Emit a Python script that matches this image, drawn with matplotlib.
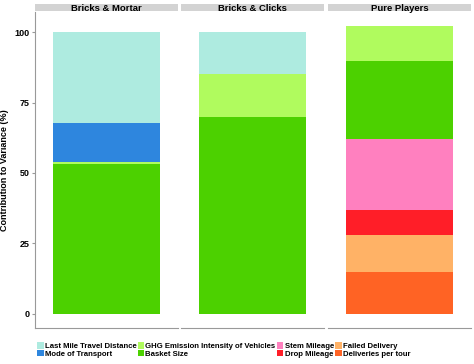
import matplotlib.pyplot as plt
from matplotlib.patches import Patch

plt.rcParams['font.family'] = ['Liberation Sans', 'DejaVu Sans']
plt.rcParams['font.weight'] = 'bold'

# Facets and variables (legend order; stacking goes bottom-up in reverse)
panels = ["Bricks & Mortar", "Bricks & Clicks", "Pure Players"]
variables = ["Last Mile Travel Distance", "Mode of Transport",
             "GHG Emission Intensity of Vehicles", "Basket Size",
             "Stem Mileage", "Drop Mileage", "Failed Delivery",
             "Deliveries per tour"]
colors = ["#aeebe0", "#2e86de", "#b0fb5e", "#4cd100",
          "#ff80bf", "#ff1e28", "#ffb266", "#ff6324"]

# contribution values per panel, same order as variables
mortar = [32.1, 13.9, 0.9, 53.1, 0, 0, 0, 0]
clicks = [14.9, 0, 15.3, 69.8, 0, 0, 0, 0]
pure = [0, 0, 12.3, 27.8, 25.3, 8.8, 13.0, 14.9]
values = [mortar, clicks, pure]

fig = plt.figure(figsize=(4.74, 3.64), dpi=100)
W, H = 474, 364
lefts = [35, 181, 328]
pw = 143
top_px, bot_px = 12, 328

for k, (name, vals) in enumerate(zip(panels, values)):
    l = lefts[k] / W
    ax = fig.add_axes([l, 1 - bot_px / H, pw / W, (bot_px - top_px) / H])
    bottom = 0
    for v, c in zip(reversed(vals), reversed(colors)):
        if v > 0:
            ax.bar(0, v, width=0.9, bottom=bottom, color=c, linewidth=0)
        bottom += v
    ax.set_xlim(-0.6, 0.6)
    ax.set_ylim(-5.1, 107.2)
    ax.set_xticks([])
    for s in ["top", "right"]:
        ax.spines[s].set_visible(False)
    ax.spines["bottom"].set_color("#999999")
    ax.spines["left"].set_color("#999999")
    if k == 0:
        ax.set_yticks([0, 25, 50, 75, 100])
        ax.tick_params(axis='y', length=2, color="#999999", labelsize=6.5, pad=2)
        ax.set_ylabel("Contribution to Variance (%)", fontsize=6.5, fontweight='bold')
    else:
        ax.set_yticks([])
        ax.spines["left"].set_visible(False)
    # facet strip
    sax = fig.add_axes([l, 1 - 11 / H, pw / W, 7 / H])
    sax.set_facecolor("#d3d3d3")
    sax.set_xticks([])
    sax.set_yticks([])
    for s in sax.spines.values():
        s.set_visible(False)
    sax.text(0.5, 0.4, name, ha='center', va='center', fontsize=6.8,
             fontweight='bold', transform=sax.transAxes)

handles = [Patch(facecolor=c, edgecolor='none') for c in colors]
fig.legend(handles, variables, loc='lower left', bbox_to_anchor=(37 / W, 6 / H),
           ncol=4, frameon=False, fontsize=5.6, handlelength=0.85, handleheight=0.85,
           handletextpad=0.15, columnspacing=0.15, labelspacing=0.0,
           borderpad=0, borderaxespad=0)

fig.savefig("out.png", dpi=100)
